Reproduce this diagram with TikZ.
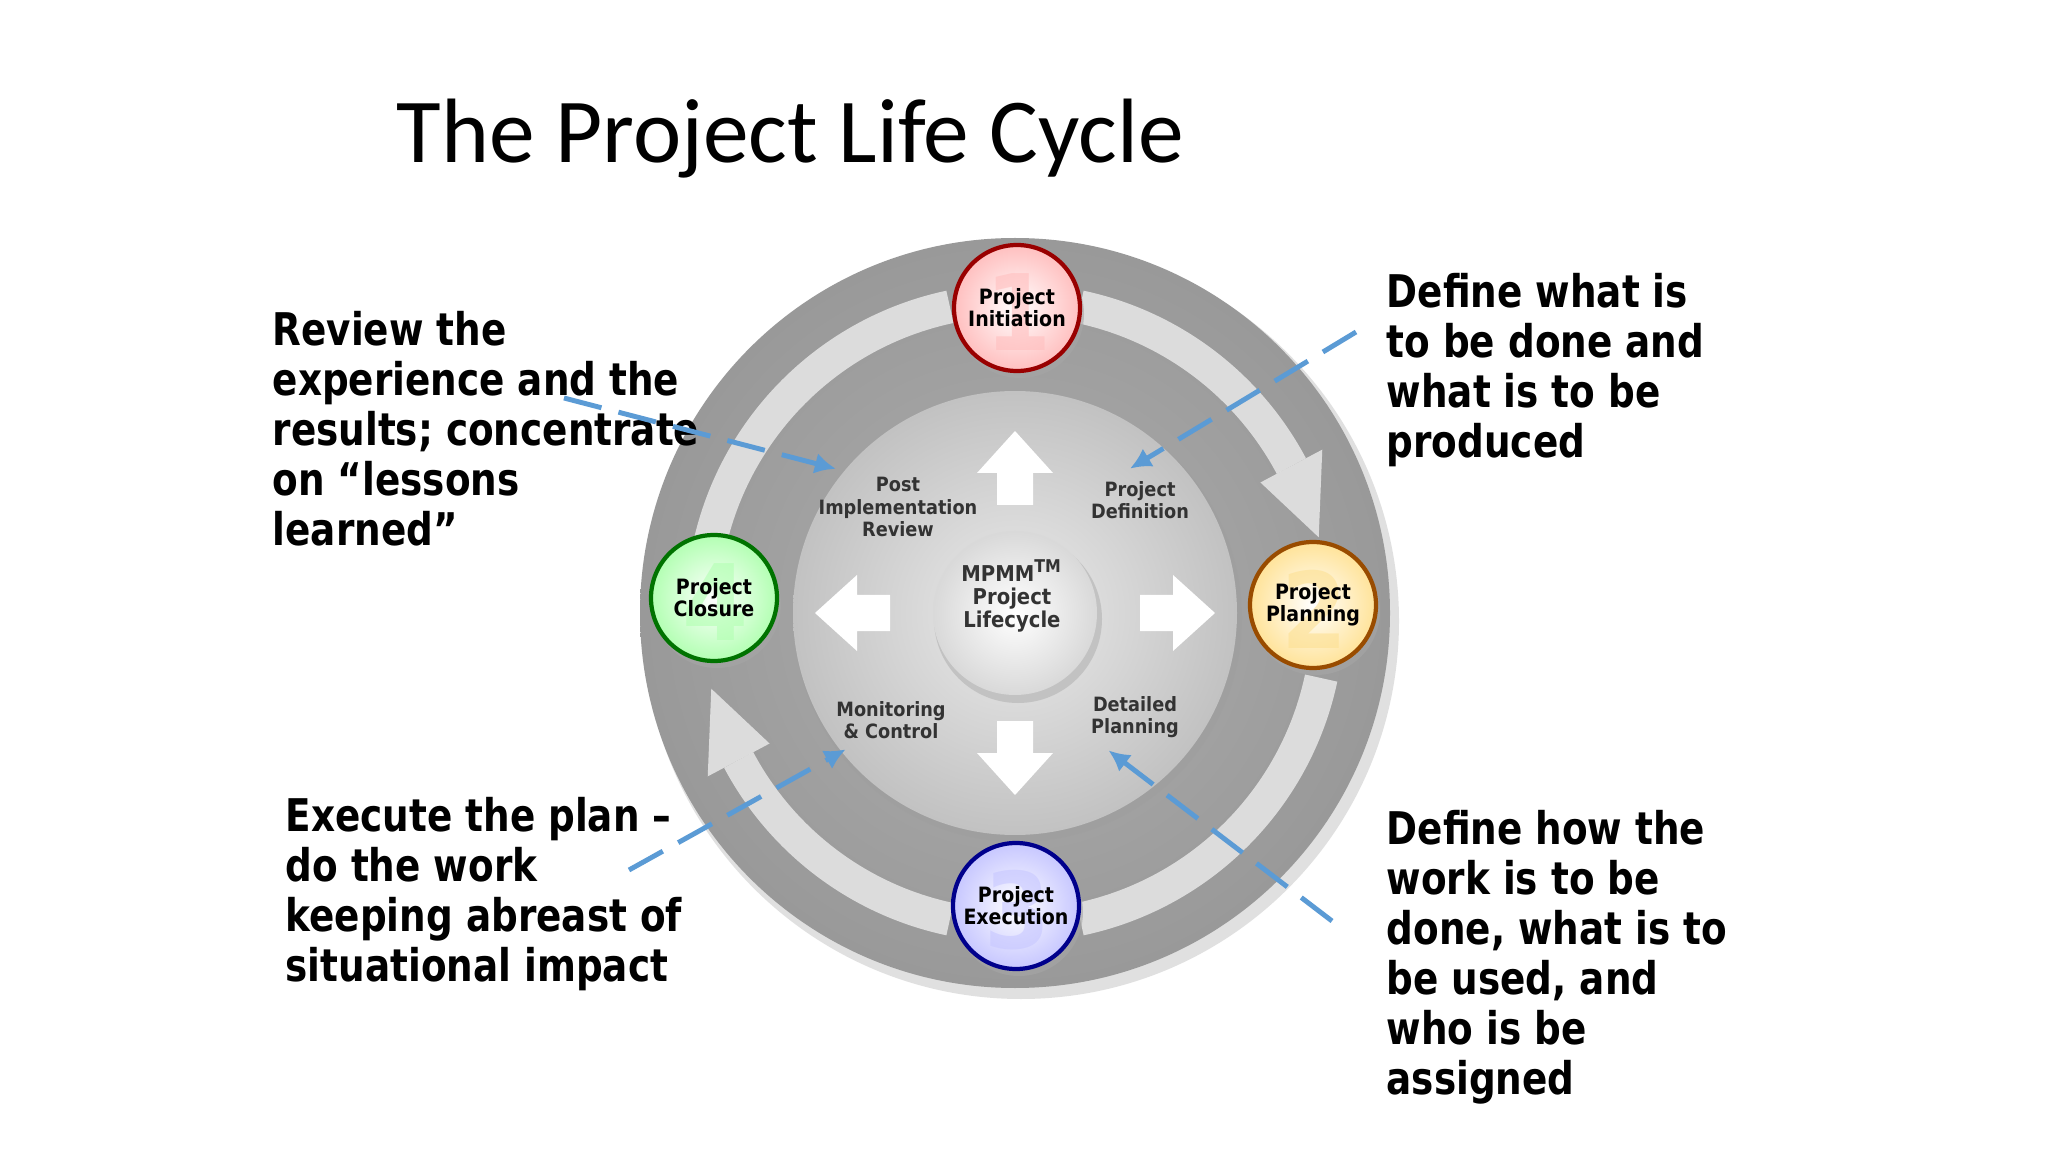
\documentclass[tikz,border=0pt]{standalone}
\usepackage{fontspec}
\setmainfont{Carlito}
\newfontfamily\bodyfont{DejaVu Sans}[FakeStretch=0.83]
\newfontfamily\lblfont{DejaVu Sans Condensed}
\usetikzlibrary{arrows.meta,calc}
\definecolor{callout}{HTML}{5B9BD5}
\tikzset{
  body/.style={anchor=north west,inner sep=0pt,align=left,font=\bodyfont\bfseries\fontsize{12.8pt}{14.2pt}\selectfont},
  inlbl/.style={align=center,inner sep=0pt,text=black!80,font=\lblfont\bfseries\fontsize{5.6pt}{6.3pt}\selectfont},
  phase/.style={circle,minimum size=126,inner sep=0pt,line width=1pt,align=center,font=\lblfont\bfseries\fontsize{6pt}{6.2pt}\selectfont},
  callarrow/.style={draw=callout,line width=1.4pt,dash pattern=on 11pt off 5pt,-{Latex[length=6pt,width=6pt]}},
  band/.style={draw=white!82!gray,line width=9.4pt,opacity=0.85},
  bandhead/.style={fill=white!82!gray,opacity=0.85},
  warrow/.style={fill=white},
}
\begin{document}
\begin{tikzpicture}[x=0.01cm,y=-0.01cm]
\useasboundingbox[fill=white] (0,0) rectangle (2048,1152);
\node[anchor=base west,inner sep=0pt,font=\fontsize{26pt}{30pt}\selectfont] (title) at (396,163) {The Project Life Cycle};

% wheel
\begin{scope}[shift={(1015,613)},y=0.01cm]
  \fill[black!20,opacity=0.6] (6,-8) circle[radius=378];
  \shade[inner color=black!32,outer color=black!40] (0,0) circle[radius=375];
  \draw[band] (78:313) arc[start angle=78,end angle=28,radius=313];
  \fill[bandhead] (28:348) -- (28:278) -- (14:313) -- cycle;
  \draw[band] (-12:313) arc[start angle=-12,end angle=-78,radius=313];
  \draw[band] (-102:313) arc[start angle=-102,end angle=-152,radius=313];
  \fill[bandhead] (-152:348) -- (-152:278) -- (-166:313) -- cycle;
  \draw[band] (168:313) arc[start angle=168,end angle=102,radius=313];
  \fill[black!38,opacity=0.5] (3,-5) circle[radius=224];
  \shade[inner color=black!8,outer color=black!24] (0,0) circle[radius=222];
  % white arrows
  \fill[warrow] (-18,-108) -- (18,-108) -- (18,-140) -- (38,-140) -- (0,-182) -- (-38,-140) -- (-18,-140) -- cycle;
  \fill[warrow] (-18,108) -- (18,108) -- (18,140) -- (38,140) -- (0,182) -- (-38,140) -- (-18,140) -- cycle;
  \fill[warrow] (125,-18) -- (125,18) -- (158,18) -- (158,38) -- (200,0) -- (158,-38) -- (158,-18) -- cycle;
  \fill[warrow] (-125,-18) -- (-125,18) -- (-158,18) -- (-158,38) -- (-200,0) -- (-158,-38) -- (-158,-18) -- cycle;
  \fill[black!30,opacity=0.6] (3,-6) circle[radius=84];
  \shade[inner color=white,outer color=black!15] (0,0) circle[radius=82];
\end{scope}

\node[inlbl,font=\lblfont\bfseries\fontsize{6.2pt}{6.6pt}\selectfont] (center) at (1012,596) {MPMM\textsuperscript{\tiny TM}\\Project\\Lifecycle};
\node[inlbl] (pir) at (898,507) {Post\\Implementation\\Review};
\node[inlbl] (pdef) at (1140,500) {Project\\Definition};
\node[inlbl] (mc) at (891,720) {Monitoring\\\& Control};
\node[inlbl] (dp) at (1135,717) {Detailed\\Planning};

% phase circles
\foreach \x/\y/\c/\b/\num in {1017/308/red!25/red!60!black/1, 1313/605/yellow!45!orange!40/orange!60!black/2, 1016/906/blue!22/blue!55!black/3, 714/598/green!30/green!45!black/4}{
  \fill[black!35,opacity=0.6] (\x+3,\y+6) circle[radius=64];
  \shade[inner color=white,outer color=\c] (\x,\y) circle[radius=63];
  \draw[\b,line width=1.2pt] (\x,\y) circle[radius=63];
  \node[text=\c,opacity=0.6,font=\lblfont\bfseries\fontsize{30pt}{30pt}\selectfont] at (\x+2,\y+4) {\num};
}
\node[phase] (n1) at (1017,308) {Project\\Initiation};
\node[phase] (n2) at (1313,605) {Project\\Planning};
\node[phase] (n3) at (1016,906) {Project\\Execution};
\node[phase] (n4) at (714,598) {Project\\Closure};

% callout texts
\node[body] (t1) at (272,311) {Review the\\experience and the\\results; concentrate\\on “lessons\\learned”};
\node[body] (t2) at (1386,273) {Define what is\\to be done and\\what is to be\\produced};
\node[body] (t3) at (285,797) {Execute the plan –\\do the work\\keeping abreast of\\situational impact};
\node[body] (t4) at (1386,810) {Define how the\\work is to be\\done, what is to\\be used, and\\who is be\\assigned};

\coordinate (s1) at (564,398);
\coordinate (s2) at (1356,332);
\coordinate (s3) at (629,870);
\coordinate (s4) at (1332,921);
\draw[callarrow] (s1) -- ($(pir.north west)+(18,-8)$);
\draw[callarrow] (s2) -- ($(pdef.north)+(-10,-12)$);
\draw[callarrow] (s3) -- ($(mc.south west)+(10,10)$);
\draw[callarrow] (s4) -- ($(dp.south west)+(18,12)$);
\end{tikzpicture}
\end{document}
